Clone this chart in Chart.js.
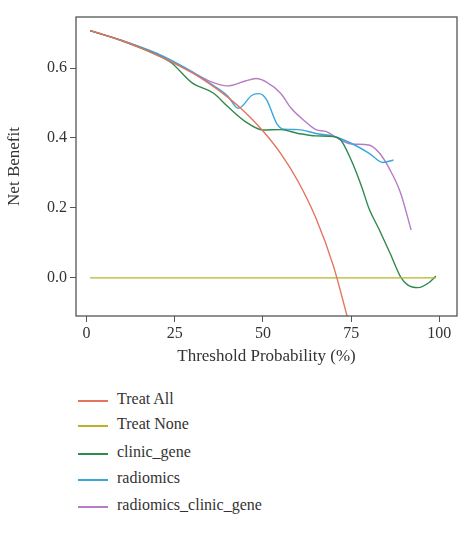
<!DOCTYPE html>
<html><head><meta charset="utf-8">
<script src="https://cdn.jsdelivr.net/npm/chart.js@4"></script>
<style>
body{margin:0;background:#fff;font-family:"Liberation Serif",serif;}
#wrap{position:relative;width:474px;height:385px;}
#legend{position:absolute;left:0;top:390px;}
.item{position:absolute;left:78px;white-space:nowrap;font-size:16px;color:#333;}
.item span.ln{position:absolute;left:0;top:10px;width:30px;height:1.5px;}
.item span.tx{position:absolute;left:39px;top:0;}
</style></head><body>
<div id="wrap"><canvas id="c" width="474" height="385"></canvas></div>
<div id="legend"></div>
<script>
const seriesNames=["Treat All","Treat None","clinic_gene","radiomics","radiomics_clinic_gene"];
const colors=["#e4735f","#b8b329","#2f8a4c","#3aa6de","#b67cc6"];
const xTicks=[0,25,50,75,100];
const yTicks=[0,0.2,0.4,0.6];
const treatAllX=[1,5,10,15,20,25,30,35,40,45,50,55,60,65,70,74];
const treatAllY=[0.707,0.695,0.678,0.659,0.637,0.613,0.586,0.554,0.517,0.473,0.42,0.356,0.275,0.171,0.033,-0.115];
const treatNoneX=[1,99];
const treatNoneY=[0,0];
const clinicX=[1,10,20,24,30,36,40,45,50,55,60,65,70,72,75,78,80,83,86,89,91,94,97,99];
const clinicY=[0.707,0.678,0.637,0.615,0.557,0.528,0.49,0.447,0.423,0.424,0.413,0.406,0.404,0.395,0.337,0.26,0.2,0.137,0.071,0.003,-0.02,-0.028,-0.014,0.005];
const radX=[1,10,20,25,30,35,40,43,47,49,51,54,56,60,65,70,75,80,84,87];
const radY=[0.707,0.679,0.642,0.617,0.589,0.556,0.52,0.485,0.523,0.527,0.51,0.44,0.425,0.424,0.413,0.405,0.385,0.357,0.33,0.337];
const rcgX=[1,10,20,25,30,35,40,45,48,51,55,58,62,65,68,71,75,80,83,86,89,92];
const rcgY=[0.707,0.679,0.64,0.615,0.588,0.562,0.549,0.563,0.57,0.56,0.528,0.485,0.447,0.424,0.418,0.40,0.383,0.38,0.357,0.309,0.243,0.137];
const xs=[treatAllX,treatNoneX,clinicX,radX,rcgX], ys=[treatAllY,treatNoneY,clinicY,radY,rcgY];
const datasets=seriesNames.map((n,i)=>({label:n,data:xs[i].map((x,j)=>({x:x,y:ys[i][j]})),borderColor:colors[i],borderWidth:1.4,pointRadius:0,fill:false,cubicInterpolationMode:'monotone'}));
const frame={id:'frame',afterDraw(ch){const a=ch.chartArea,c=ch.ctx;c.save();c.strokeStyle='#555';c.lineWidth=1.3;c.strokeRect(a.left,a.top,a.right-a.left,a.bottom-a.top);c.restore();}};
const font={family:"Liberation Serif",size:16};
new Chart(document.getElementById('c'),{type:'line',data:{datasets},plugins:[frame],
options:{responsive:false,animation:false,layout:{padding:{top:17,right:17,left:0,bottom:14}},
plugins:{legend:{display:false},tooltip:{enabled:false}},
scales:{
x:{type:'linear',min:-3,max:105,afterBuildTicks:s=>{s.ticks=xTicks.map(v=>({value:v}));},
 afterFit:s=>{s.height=55;},
 grid:{drawOnChartArea:false,tickLength:6,color:'#555'},border:{display:false},
 ticks:{color:'#333',font:font,padding:2,maxRotation:0},
 title:{display:true,text:'Threshold Probability (%)',color:'#333',font:{family:"Liberation Serif",size:17},padding:{top:0}}},
y:{min:-0.109,max:0.746,afterBuildTicks:s=>{s.ticks=yTicks.map(v=>({value:v}));},
 afterFit:s=>{s.width=76;},
 grid:{drawOnChartArea:false,tickLength:6,color:'#555'},border:{display:false},
 ticks:{color:'#333',font:font,padding:3,callback:v=>v.toFixed(1)},
 title:{display:true,text:'Net Benefit',color:'#333',font:{family:"Liberation Serif",size:17},padding:{bottom:4}}}
}}});
const lg=document.getElementById('legend');
const tops=[3,28,56,82,109];
seriesNames.forEach((n,i)=>{const d=document.createElement('div');d.className='item';d.style.top=(tops[i]-3)+'px';
d.innerHTML='<span class="ln" style="background:'+colors[i]+'"></span><span class="tx">'+n+'</span>';lg.appendChild(d);});
</script></body></html>
